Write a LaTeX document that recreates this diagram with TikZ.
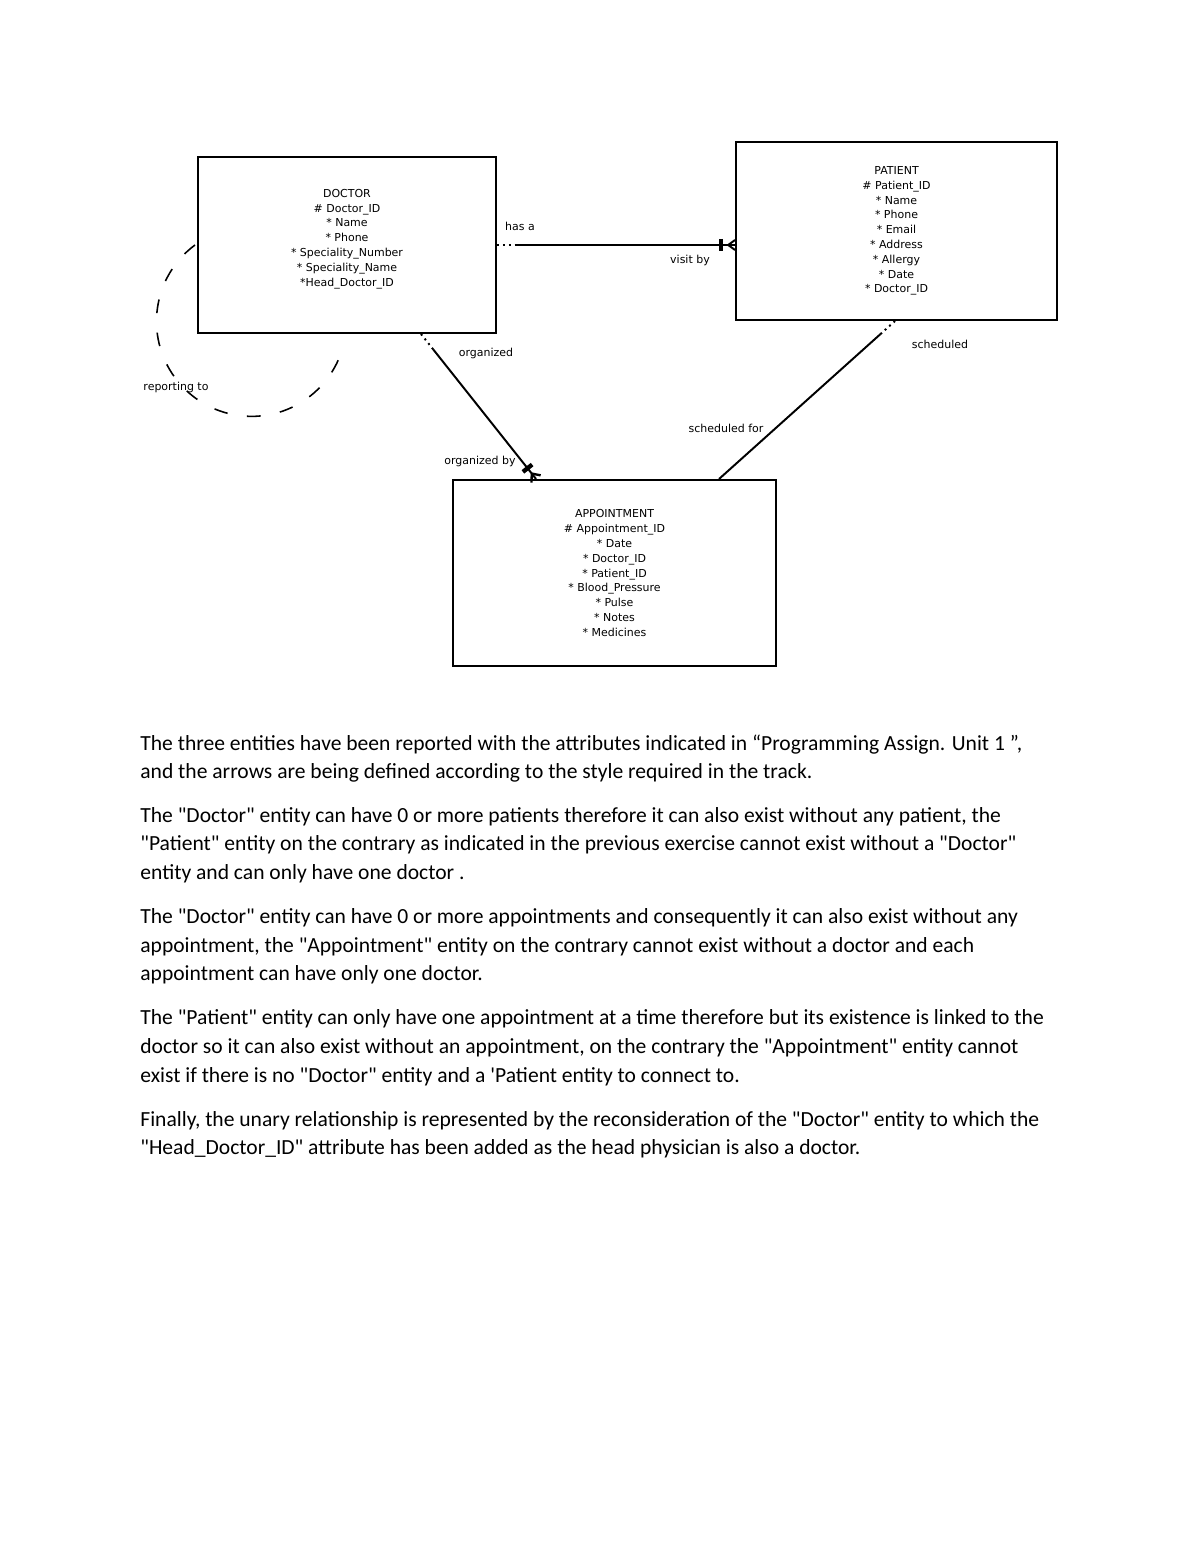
\documentclass[tikz,border=0pt]{standalone}
\usepackage{fontspec}
\setmainfont{Carlito}[Ligatures=TeXOff]
\newfontfamily\dia{DejaVu Sans}
\usetikzlibrary{calc}
\tikzset{
  ebox/.style={draw, line width=1pt, align=center, inner sep=0pt,
    font=\dia\fontsize{5.6}{7.55}\selectfont},
  rel/.style={line width=1pt},
  reldot/.style={line width=1pt, dotted},
  lbl/.style={font=\dia\fontsize{5.6}{7}\selectfont, inner sep=0pt},
  body/.style={anchor=base west, inner sep=0pt, font=\fontsize{11}{14}\selectfont},
}
\begin{document}
\begin{tikzpicture}[x=0.51pt, y=-0.51pt]
\useasboundingbox (0,0) rectangle (1200,1553);
% entities
\node[ebox, minimum width=152pt, minimum height=89.8pt] (doc) at (347,245)
  {DOCTOR\\\# Doctor\_ID\\* Name\\* Phone\\* Speciality\_Number\\* Speciality\_Name\\*Head\_Doctor\_ID\\[0pt]};
\node[ebox, minimum width=163.7pt, minimum height=90.8pt] (pat) at (896.5,231)
  {PATIENT\\\# Patient\_ID\\* Name\\* Phone\\* Email\\* Address\\* Allergy\\* Date\\* Doctor\_ID};
\node[ebox, minimum width=164.7pt, minimum height=94.9pt] (app) at (614.5,573)
  {APPOINTMENT\\\# Appointment\_ID\\* Date\\* Doctor\_ID\\* Patient\_ID\\* Blood\_Pressure\\* Pulse\\* Notes\\* Medicines};

% has a / visit by
\coordinate (h2) at (pat.west |- doc.east);
\draw[reldot] (doc.east) -- ($(doc.east)!10pt!(h2)$);
\draw[rel] ($(doc.east)!10pt!(h2)$) -- (h2);
\draw[line width=2.2pt] ($(h2)!7pt!(doc.east)$) ++(0,-6) -- ++(0,12);
\draw[line width=1pt] ($(h2)!3.5pt!(doc.east)$) -- ($(h2)+(0,-5)$);
\draw[line width=1pt] ($(h2)!3.5pt!(doc.east)$) -- ($(h2)+(0,5)$);

% organized / organized by
\coordinate (o1) at ($(doc.south west)+(224,0)$);
\coordinate (o2) at ($(app.north west)+(84,0)$);
\draw[reldot] (o1) -- ($(o1)!10pt!(o2)$);
\draw[rel] ($(o1)!10pt!(o2)$) -- (o2);
\coordinate (ob) at ($(o2)!7pt!(o1)$);
\draw[line width=2.2pt] ($(ob)!3pt!90:(o1)$) -- ($(ob)!3pt!-90:(o1)$);
\coordinate (oc) at ($(o2)!3.5pt!(o1)$);
\draw[line width=1.2pt] (oc) -- ($(o2)!3pt!90:(o1)$);
\draw[line width=1.2pt] (oc) -- ($(o2)!3pt!-90:(o1)$);

% scheduled / scheduled for
\coordinate (s1) at ($(pat.south west)+(160,0)$);
\coordinate (s2) at ($(app.north west)+(267,0)$);
\draw[reldot] (s1) -- ($(s1)!10pt!(s2)$);
\draw[rel] ($(s1)!10pt!(s2)$) -- (s2);

% reporting to (unary)
\draw[line width=0.8pt, dash pattern=on 7pt off 10pt] (195,245) arc[start angle=233.5, end angle=14, radius=95];

% labels
\node[lbl] (lhas) at (520,226) {has a};
\node[lbl] (lvisit) at (690,260) {visit by};
\node[lbl] (lorg) at (486,353) {organized};
\node[lbl] (lorgby) at (480,461) {organized by};
\node[lbl] (lsch) at (940,344) {scheduled};
\node[lbl] (lschfor) at (726,428) {scheduled for};
\node[lbl] (lrep) at (176,387) {reporting to};

% body text
\node[body] (t1) at (140,750) {The three entities have been reported with the attributes indicated in “Programming Assign. Unit 1 ”,};
\node[body] (t2) at (140,778) {and the arrows are being defined according to the style required in the track.};
\node[body] (t3) at (140,822) {The "Doctor" entity can have 0 or more patients therefore it can also exist without any patient, the};
\node[body] (t4) at (140,850) {"Patient" entity on the contrary as indicated in the previous exercise cannot exist without a "Doctor"};
\node[body] (t5) at (140,879) {entity and can only have one doctor .};
\node[body] (t6) at (140,923) {The "Doctor" entity can have 0 or more appointments and consequently it can also exist without any};
\node[body] (t7) at (140,952) {appointment, the "Appointment" entity on the contrary cannot exist without a doctor and each};
\node[body] (t8) at (140,980) {appointment can have only one doctor.};
\node[body] (t9) at (140,1024) {The "Patient" entity can only have one appointment at a time therefore but its existence is linked to the};
\node[body] (t10) at (140,1053) {doctor so it can also exist without an appointment, on the contrary the "Appointment" entity cannot};
\node[body] (t11) at (140,1082) {exist if there is no "Doctor" entity and a 'Patient entity to connect to.};
\node[body] (t12) at (140,1126) {Finally, the unary relationship is represented by the reconsideration of the "Doctor" entity to which the};
\node[body] (t13) at (140,1154) {"Head\_Doctor\_ID" attribute has been added as the head physician is also a doctor.};
\end{tikzpicture}
\end{document}
